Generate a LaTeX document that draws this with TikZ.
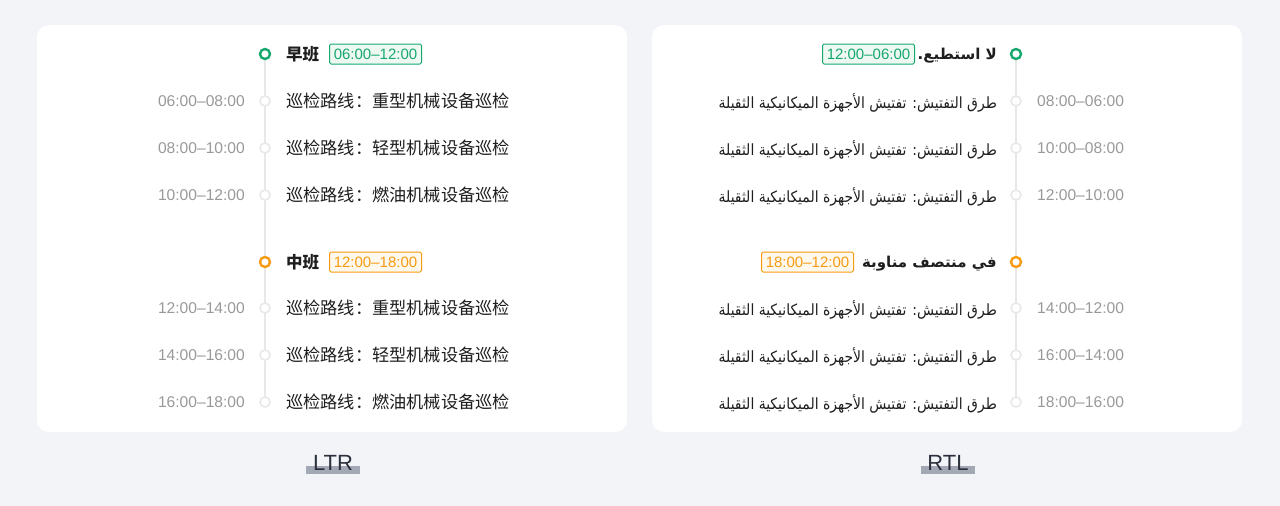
\documentclass[tikz,border=0pt]{standalone}
\usepackage{fontspec}
\usepackage{graphicx}
\setmainfont{Liberation Sans}
\newfontfamily\cjk{Noto Sans CJK SC}
\newfontfamily\arabicfont[Script=Arabic]{DejaVu Sans}
\TeXXeTstate=1
\definecolor{bg}{HTML}{F3F4F8}
\definecolor{gr}{HTML}{16A86D}
\definecolor{grfill}{HTML}{EEF9F4}
\definecolor{og}{HTML}{F89B12}
\definecolor{ogfill}{HTML}{FFF8EC}
\definecolor{lgray}{HTML}{E8E8E8}
\definecolor{tgray}{HTML}{999999}
\definecolor{ink}{HTML}{1E1E1E}
\definecolor{barc}{HTML}{A2A8B4}
\definecolor{labc}{HTML}{2A303C}
\newcommand{\arline}{\scalebox{0.9}[1]{\beginR طرق التفتيش: تفتيش الأجهزة الميكانيكية الثقيلة\endR}}
\tikzset{
  x=1pt,y=-1pt,
  card/.style={fill=white,rounded corners=12pt,draw=none},
  tl/.style={draw=lgray,line width=2pt},
  dotgray/.style={circle,draw=lgray,fill=white,line width=1.6pt,minimum size=10pt,inner sep=0pt},
  dotg/.style={circle,draw=gr,fill=white,line width=2.4pt,minimum size=10pt,inner sep=0pt},
  doto/.style={circle,draw=og,fill=white,line width=2.4pt,minimum size=10pt,inner sep=0pt},
  ttime/.style={text=tgray,font=\fontsize{15.6}{17}\selectfont,inner sep=0pt},
  titem/.style={text=ink,font=\cjk\fontsize{17.2}{19}\selectfont,inner sep=0pt},
  ttitle/.style={text=ink,font=\cjk\bfseries\fontsize{16.5}{19}\selectfont,inner sep=0pt},
  aitem/.style={text=ink,font=\arabicfont\fontsize{15.5}{17}\selectfont,inner sep=0pt,yshift=-1.5pt},
  atitle/.style={text=ink,font=\arabicfont\bfseries\fontsize{15}{17}\selectfont,inner sep=0pt,yshift=-2pt},
  taggr/.style={draw=gr,fill=grfill,text=gr,line width=1pt,rounded corners=1.5pt,font=\fontsize{15}{17}\selectfont,minimum height=20pt,minimum width=92pt,inner sep=0pt},
  tagog/.style={draw=og,fill=ogfill,text=og,line width=1pt,rounded corners=1.5pt,font=\fontsize{15}{17}\selectfont,minimum height=20pt,minimum width=92pt,inner sep=0pt},
  bar/.style={fill=barc,draw=none},
  caplabel/.style={text=labc,font=\fontsize{22}{24}\selectfont,inner sep=0pt},
}
\begin{document}
\begin{tikzpicture}
\useasboundingbox[fill=bg] (0,0) rectangle (1280,506);
\fill[card] (37,25) rectangle (627,432);
\fill[card] (652,25) rectangle (1242,432);
% ---------- LTR ----------
\draw[tl] (265,54) -- (265,402);
\node[dotg] (l0) at (265,54) {};
\node[dotgray] (l1) at (265,101) {};
\node[dotgray] (l2) at (265,148) {};
\node[dotgray] (l3) at (265,195) {};
\node[doto] (l4) at (265,262) {};
\node[dotgray] (l5) at (265,308) {};
\node[dotgray] (l6) at (265,355) {};
\node[dotgray] (l7) at (265,402) {};
\node[ttitle,anchor=west] (lt0) at (286,54) {早班};
\node[taggr,anchor=west] (lg0) at (329,54) {06:00–12:00};
\node[ttime,anchor=east] (lm1) at (245,101) {06:00–08:00};
\node[ttime,anchor=east] (lm2) at (245,148) {08:00–10:00};
\node[ttime,anchor=east] (lm3) at (245,195) {10:00–12:00};
\node[titem,anchor=west] (li1) at (286,101) {巡检路线：重型机械设备巡检};
\node[titem,anchor=west] (li2) at (286,148) {巡检路线：轻型机械设备巡检};
\node[titem,anchor=west] (li3) at (286,195) {巡检路线：燃油机械设备巡检};
\node[ttitle,anchor=west] (lt4) at (286,262) {中班};
\node[tagog,anchor=west] (lg4) at (329,262) {12:00–18:00};
\node[ttime,anchor=east] (lm5) at (245,308) {12:00–14:00};
\node[ttime,anchor=east] (lm6) at (245,355) {14:00–16:00};
\node[ttime,anchor=east] (lm7) at (245,402) {16:00–18:00};
\node[titem,anchor=west] (li5) at (286,308) {巡检路线：重型机械设备巡检};
\node[titem,anchor=west] (li6) at (286,355) {巡检路线：轻型机械设备巡检};
\node[titem,anchor=west] (li7) at (286,402) {巡检路线：燃油机械设备巡检};
% ---------- RTL ----------
\draw[tl] (1016,54) -- (1016,402);
\node[dotg] (r0) at (1016,54) {};
\node[dotgray] (r1) at (1016,101) {};
\node[dotgray] (r2) at (1016,148) {};
\node[dotgray] (r3) at (1016,195) {};
\node[doto] (r4) at (1016,262) {};
\node[dotgray] (r5) at (1016,308) {};
\node[dotgray] (r6) at (1016,355) {};
\node[dotgray] (r7) at (1016,402) {};
\node[atitle,anchor=east] (rt0) at (997,54) {\beginR لا استطيع.\endR};
\node[taggr,anchor=east] (rg0) at (915,54) {12:00–06:00};
\node[ttime,anchor=west] (rm1) at (1037,101) {08:00–06:00};
\node[ttime,anchor=west] (rm2) at (1037,148) {10:00–08:00};
\node[ttime,anchor=west] (rm3) at (1037,195) {12:00–10:00};
\node[aitem,anchor=east] (ri1) at (997,101) {\arline};
\node[aitem,anchor=east] (ri2) at (997,148) {\arline};
\node[aitem,anchor=east] (ri3) at (997,195) {\arline};
\node[atitle,anchor=east] (rt4) at (997,262) {\beginR في منتصف مناوبة\endR};
\node[tagog,anchor=east] (rg4) at (854,262) {18:00–12:00};
\node[ttime,anchor=west] (rm5) at (1037,308) {14:00–12:00};
\node[ttime,anchor=west] (rm6) at (1037,355) {16:00–14:00};
\node[ttime,anchor=west] (rm7) at (1037,402) {18:00–16:00};
\node[aitem,anchor=east] (ri5) at (997,308) {\arline};
\node[aitem,anchor=east] (ri6) at (997,355) {\arline};
\node[aitem,anchor=east] (ri7) at (997,402) {\arline};
% ---------- captions ----------
\fill[bar] (306,466) rectangle (360,474);
\node[caplabel] (ltr) at (333,463) {LTR};
\fill[bar] (921,466) rectangle (975,474);
\node[caplabel] (rtl) at (948,463) {RTL};
\end{tikzpicture}
\end{document}
